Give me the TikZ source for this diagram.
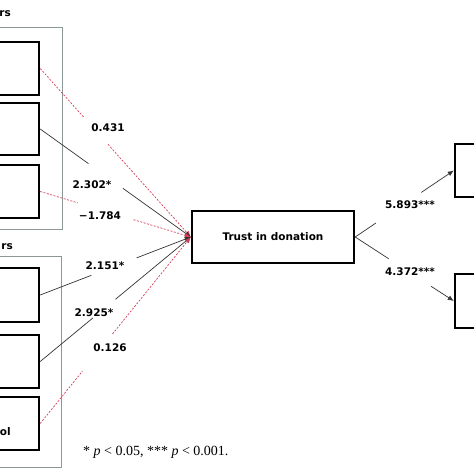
\documentclass[tikz,border=0pt]{standalone}
\usepackage{fontspec}
\setmainfont{Liberation Serif}
\newfontfamily\lblfont{DejaVu Sans}
\usetikzlibrary{arrows.meta,calc,positioning}
\definecolor{pathred}{RGB}{214,62,88}
\definecolor{framegray}{RGB}{140,152,150}

\begin{document}
\begin{tikzpicture}[x=1pt,y=-1pt,
    box/.style={rectangle, draw, line width=2.4pt, minimum width=100pt},
    grp/.style={rectangle, draw=framegray, line width=0.9pt},
    coef/.style={font=\lblfont\bfseries\fontsize{10.5}{12}\selectfont, inner sep=0pt},
    sig/.style={draw=black!80, line width=0.7pt},
    ns/.style={draw=pathred, line width=0.7pt, dash pattern=on 2pt off 1.5pt},
    arr/.style={-{Latex[length=6pt,width=5pt]}}]
    \useasboundingbox (0,0) rectangle (474,474);
    \clip (0,0) rectangle (474,474);

    % factor groups
    \node(g1) [grp, minimum width=142pt, minimum height=202pt] at (-9,128) {};
    \node(g2) [grp, minimum width=141pt, minimum height=211pt] at (-9.5,361.5) {};
    \node(h1) [coef, anchor=east] at (11,14) {rs};
    \node(h2) [coef, anchor=east] at (13,247) {rs};

    \node(b1) [box, minimum height=53pt] at (-11,68.5) {};
    \node(b2) [box, minimum height=52pt] at (-11,129) {};
    \node(b3) [box, minimum height=53pt] at (-11,191.5) {};
    \node(b4) [box, minimum height=54pt] at (-11,295) {};
    \node(b5) [box, minimum height=53pt] at (-11,361.5) {};
    \node(b6) [box, minimum height=53pt] at (-11,423.5) {};
    \node(t6) [coef, anchor=east] at (11,432) {ol};

    \node(main) [box, minimum width=162pt, minimum height=52pt, font=\lblfont\bfseries\fontsize{10.5}{12}\selectfont] at (273,237) {Trust in donation};
    \node(r1) [box, minimum height=53pt] at (505,170.5) {};
    \node(r2) [box, minimum height=54pt] at (505,301) {};

    % paths into trust
    \draw[ns] (b1.east) -- ($(b1.east)!0.29!(main.west)$);
    \draw[ns, arr] ($(b1.east)!0.45!(main.west)$) -- (main.west);
    \draw[sig] (b2.east) -- ($(b2.east)!0.32!(main.west)$);
    \draw[sig, arr] ($(b2.east)!0.55!(main.west)$) -- (main.west);
    \draw[ns] (b3.east) -- ($(b3.east)!0.25!(main.west)$);
    \draw[ns, arr] ($(b3.east)!0.62!(main.west)$) -- (main.west);
    \draw[sig] (b4.east) -- ($(b4.east)!0.34!(main.west)$);
    \draw[sig, arr] ($(b4.east)!0.64!(main.west)$) -- (main.west);
    \draw[sig] (b5.east) -- ($(b5.east)!0.35!(main.west)$);
    \draw[sig, arr] ($(b5.east)!0.5!(main.west)$) -- (main.west);
    \draw[ns] (b6.east) -- ($(b6.east)!0.28!(main.west)$);
    \draw[ns, arr] ($(b6.east)!0.48!(main.west)$) -- (main.west);

    \node(c1) [coef] at (108,128) {0.431};
    \node(c2) [coef] at (92,185) {2.302*};
    \node(c3) [coef] at (100,216) {−1.784};
    \node(c4) [coef] at (105,266) {2.151*};
    \node(c5) [coef] at (94,313) {2.925*};
    \node(c6) [coef] at (110,348) {0.126};

    % paths out of trust
    \draw[sig] (main.east) -- ($(main.east)!0.21!(r1.west)$);
    \draw[sig, arr] ($(main.east)!0.67!(r1.west)$) -- (r1.west);
    \draw[sig] (main.east) -- ($(main.east)!0.34!(r2.west)$);
    \draw[sig, arr] ($(main.east)!0.77!(r2.west)$) -- (r2.west);
    \node(c7) [coef] at (410,205) {5.893***};
    \node(c8) [coef] at (410,272) {4.372***};

    \node(note) [anchor=west, inner sep=0pt, font=\fontsize{14}{16}\selectfont] at (83,452) {* \textit{p} < 0.05, *** \textit{p} < 0.001.};
\end{tikzpicture}
\end{document}
